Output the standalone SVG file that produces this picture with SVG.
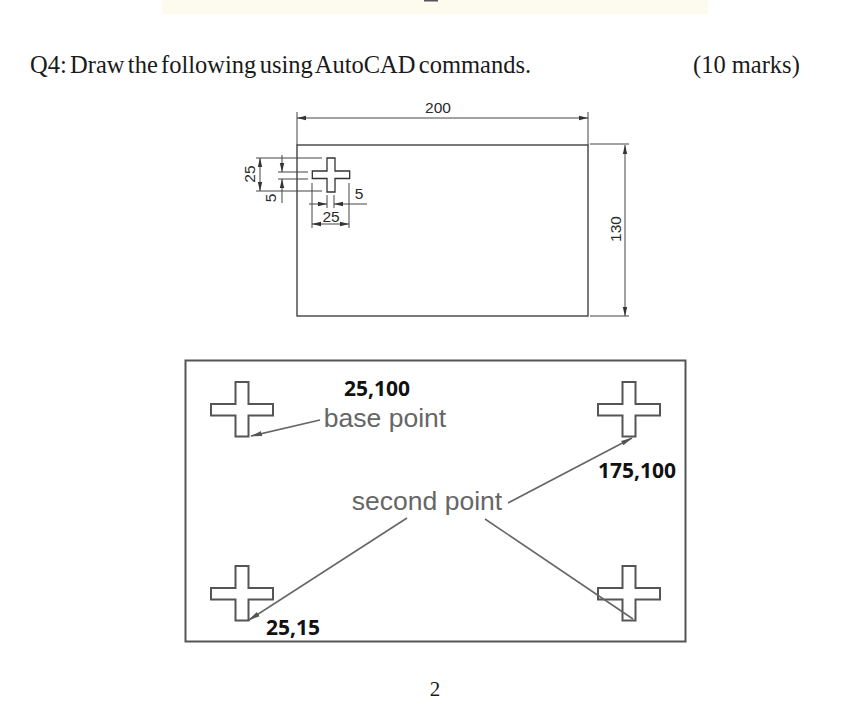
<svg xmlns="http://www.w3.org/2000/svg" width="864" height="701" viewBox="0 0 864 701">
<style>
.q{font-family:"Liberation Serif",serif;fill:#1a1a1a}
.d{font-family:"Liberation Sans",Arial,sans-serif;font-size:15.500px;fill:#2a2a2a;text-anchor:middle}
.b{font-family:"Open Sans","Noto Sans",sans-serif;font-weight:700;font-size:21px;fill:#111;text-anchor:middle}
.g{font-family:"Liberation Sans",Arial,sans-serif;font-size:26.500px;fill:#666;text-anchor:middle}
.l{fill:none;stroke:#444;stroke-width:1}
.m{fill:none;stroke:#333;stroke-width:1.300}
.c{fill:#fff;stroke:#555;stroke-width:2}
.a{fill:none;stroke:#666;stroke-width:1.600}
</style>
<defs>
<marker id="ah" markerUnits="userSpaceOnUse" markerWidth="9" markerHeight="6" refX="9" refY="3" orient="auto-start-reverse"><path d="M0 .8L9 3L0 5.200z" fill="#333"/></marker>
<marker id="ag" markerUnits="userSpaceOnUse" markerWidth="12" markerHeight="7" refX="11" refY="3.500" orient="auto"><path d="M0 1L12 3.500L0 6z" fill="#555"/></marker>
<path id="cross" d="M-6.500 -27.500H6.500V-5.500H31V6H6.500V27H-6.500V6H-31V-5.500H-6.500z"/>
<path id="small" d="M-4 -17H4V-4H18.700V3.500H4V17H-4V3.500H-18.700V-4H-4z"/>
</defs>
<rect width="864" height="701" fill="#fff"/>
<rect id="band" x="162" y="0" width="546" height="14" fill="#fdfbee"/>
<rect x="424" y="0" width="14" height="1.500" fill="#555"/>
<text id="title" class="q" x="30" y="73" font-size="24.500" word-spacing="-2.800">Q4: Draw the following using AutoCAD commands.</text>
<text id="marks" class="q" x="693" y="73" font-size="24.500">(10 marks)</text>
<g id="plan">
<rect id="plate" class="m" x="297" y="145" width="291" height="171"/>
<use id="plan-cross" href="#small" x="331" y="175" class="m" fill="#fff"/>
</g>
<g id="connectors">
<path class="l" d="M297 112V145M588 112V145M590 144H629M590 316H629M256 158H322M256 191H322M278 172H308M278 179H308M312 183V228M349 183V228M327 195V208M334 195V208"/>
<path class="l" marker-start="url(#ah)" marker-end="url(#ah)" d="M297 118H588"/>
<path class="l" marker-start="url(#ah)" marker-end="url(#ah)" d="M625 145V316"/>
<path class="l" marker-start="url(#ah)" marker-end="url(#ah)" d="M260 158V191"/>
<path class="l" marker-end="url(#ah)" d="M282 155V172"/>
<path class="l" marker-end="url(#ah)" d="M282 203V179"/>
<path class="l" marker-end="url(#ah)" d="M309 204H327"/>
<path class="l" marker-end="url(#ah)" d="M367 204H334"/>
<path class="l" marker-start="url(#ah)" marker-end="url(#ah)" d="M312 224H349"/>
</g>
<g id="plan-labels">
<text class="d" x="438" y="113">200</text>
<text class="d" x="331" y="222">25</text>
<text class="d" x="359" y="199">5</text>
<text class="d" transform="translate(255 174) rotate(-90)">25</text>
<text class="d" transform="translate(276 198) rotate(-90)">5</text>
<text class="d" transform="translate(621 229) rotate(-90)">130</text>
</g>
<g id="sheet">
<rect x="185.500" y="360.500" width="500" height="281" fill="#fff" stroke="#555" stroke-width="2"/>
</g>
<g id="cross-tl"><use href="#cross" x="242" y="409.500" class="c"/></g>
<g id="cross-tr"><use href="#cross" x="629" y="409.500" class="c"/></g>
<g id="cross-bl"><use href="#cross" x="242" y="593.500" class="c"/></g>
<g id="cross-br"><use href="#cross" x="629" y="593.500" class="c"/></g>
<g id="leaders">
<path class="a" marker-end="url(#ag)" d="M320 420L251 436"/>
<path class="a" marker-end="url(#ag)" d="M508 503L632 438"/>
<path class="a" marker-end="url(#ag)" d="M407 518L249 620"/>
<path class="a" d="M485 519L633 619"/>
</g>
<g id="sheet-labels">
<text class="b" x="377" y="396">25,100</text>
<text class="g" x="385" y="427">base point</text>
<text class="g" x="427" y="510">second point</text>
<text class="b" x="637" y="478">175,100</text>
<text class="b" x="293" y="635">25,15</text>
</g>
<text id="page" class="q" x="435" y="696" font-size="21" text-anchor="middle">2</text>
</svg>
